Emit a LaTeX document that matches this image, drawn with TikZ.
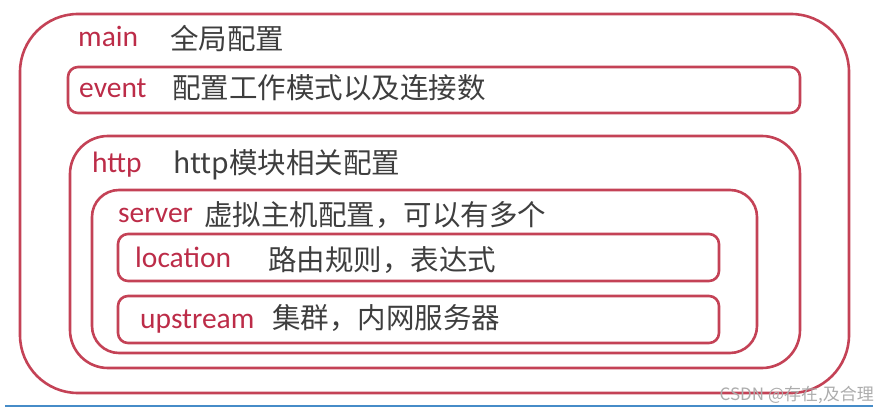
\documentclass[tikz,border=0pt]{standalone}
\usepackage{fontspec}
\usepackage{xcolor}
\setmainfont{Carlito}
\newfontfamily\cjk{Noto Sans CJK SC}
\definecolor{boxred}{RGB}{196,66,86}
\definecolor{labred}{RGB}{188,44,72}
\definecolor{txtgray}{RGB}{62,62,62}
\definecolor{lineblue}{RGB}{70,140,200}

\begin{document}
\begin{tikzpicture}
                        [x=1pt, y=-1pt,
                        box/.style = {draw=boxred, line width=2.6pt},
                        lab/.style = {anchor=base west, inner sep=0pt, text=labred,
                                    font=\fontsize{29.5}{30}\selectfont},
                        txt/.style = {anchor=base west, inner sep=0pt, text=txtgray,
                                    font=\cjk\fontsize{28.5}{30}\selectfont}]
                        \useasboundingbox (0,0) rectangle (878,412);
                        % Bloques
                        \draw[box, rounded corners=58] (20,14) rectangle (849,393);
                        \draw[box, rounded corners=10] (68,67) rectangle (800,113);
                        \draw[box, rounded corners=38] (70,136) rectangle (800,368);
                        \draw[box, rounded corners=27] (92,190) rectangle (757,353);
                        \draw[box, rounded corners=10] (118,234) rectangle (719,281);
                        \draw[box, rounded corners=10] (118,296) rectangle (719,343);
                        % Bloque main
                        \node[lab] (main) at (78,47) {main};
                        \node[txt] (maintxt) at (170,50) {全局配置};
                        % Bloque event
                        \node[lab] (event) at (79,97) {event};
                        \node[txt] (eventtxt) at (172,99) {配置工作模式以及连接数};
                        % Bloque http
                        \node[lab] (http) at (92,172) {http};
                        \node[txt] (httptxt) at (173,173) {http模块相关配置};
                        % Bloque server
                        \node[lab] (server) at (118,222) {server};
                        \node[txt] (servertxt) at (204,225) {虚拟主机配置，可以有多个};
                        % Bloque location
                        \node[lab] (location) at (135,267) {location};
                        \node[txt] (locationtxt) at (268,270) {路由规则，表达式};
                        % Bloque upstream
                        \node[lab] (upstream) at (140,328) {upstream};
                        \node[txt] (upstreamtxt) at (272,328) {集群，内网服务器};
                        % Pie
                        \draw[lineblue, line width=2.5pt] (5,406) -- (873,406);
                        \node[anchor=base east, inner sep=0pt, text=gray!65,
                            font=\cjk\fontsize{17}{18}\selectfont] (marca) at (874,400) {CSDN @存在,及合理};
                    \end{tikzpicture}
\end{document}
